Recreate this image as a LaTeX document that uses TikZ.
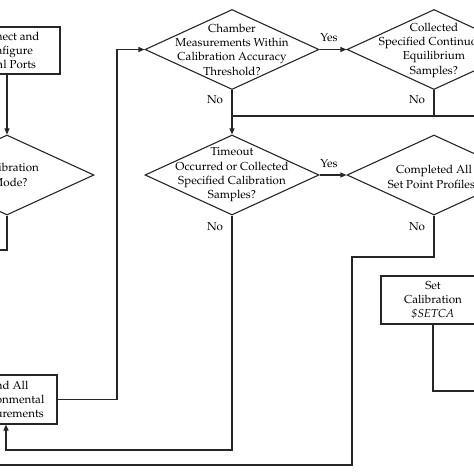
\documentclass[tikz,border=0pt]{standalone}
\usepackage[T1]{fontenc}
\usepackage{mathpazo}
\usetikzlibrary{shapes.geometric,arrows.meta,calc}
\newcommand\txtfont{\fontsize{11.6}{14.3}\selectfont}
\tikzset{
  ln/.style={draw=black!85, line width=1.1pt},
  arr/.style={ln, -{Triangle[length=6pt,width=5pt]}},
  dia/.style={diamond, draw=black!85, line width=1.1pt, minimum width=174pt, minimum height=80pt, inner sep=0pt},
  boxnode/.style={rectangle, draw=black!85, line width=1.1pt, inner sep=0pt, align=center, font=\txtfont},
  txt/.style={align=center, font=\txtfont, inner sep=0pt},
  lbl/.style={font=\txtfont, inner sep=1pt},
}
\begin{document}
\begin{tikzpicture}[x=1pt,y=-1pt]
\useasboundingbox (0,0) rectangle (474,474);
\clip (0,0) rectangle (474,474);
% boxes
\node[boxnode, minimum width=106pt, minimum height=47pt] (b1) at (7,50.5) {Connect and\\Configure\\Serial Ports};
\node[boxnode, minimum width=102pt, minimum height=49pt] (rd) at (6,399.5) {Read All\\Environmental\\Measurements};
\node[boxnode, minimum width=104pt, minimum height=48pt] (sc) at (433,300) {Set\\Calibration\\\textit{\$SETCA}};
% diamonds
\node[dia] (cm) at (7,175) {};
\node[txt] (cmt) at (10,175) {Calibration\\Mode?};
\node[dia] (ch) at (232,49.5) {};
\node[txt] (cht) at (232,49.5) {Chamber\\Measurements Within\\Calibration Accuracy\\Threshold?};
\node[dia] (co) at (434,49.5) {};
\node[txt] (cot) at (434,50) {Collected\\Specified Continuous\\Equilibrium\\Samples?};
\node[dia] (to) at (232,175) {};
\node[txt] (tot) at (232,175) {Timeout\\Occurred or Collected\\Specified Calibration\\Samples?};
\node[dia] (cp) at (434,175) {};
\node[txt] (cpt) at (434,177) {Completed All\\Set Point Profiles?};
% labels
\node[lbl] (y1) at (329,38) {Yes};
\node[lbl] (y2) at (329,164) {Yes};
\node[lbl] (n1) at (215,100) {No};
\node[lbl] (n2) at (417,100) {No};
\node[lbl] (n3) at (215,227) {No};
\node[lbl] (n4) at (417,227) {No};
% coordinates
\coordinate (j1) at (117,49.5);
\coordinate (j2) at (232,116);
\coordinate (j3) at (490,116);
\coordinate (j4) at (232,450);
\coordinate (j5) at (352,257);
\coordinate (j6) at (-20,465);
\coordinate (j7) at (490,391);
\coordinate (j8) at (-20,250);
% connectors
\draw[arr] (b1.south) -- (cm.north);
\draw[ln] (cm.south) |- (j8);
\draw[arr] (rd.east) -| (j1) -- (ch.west);
\draw[arr] (ch.east) -- (co.west);
\draw[arr] (ch.south) -- (to.north);
\draw[ln] (co.south) -- (co.south |- j2);
\draw[ln] (j3) -- (j2);
\draw[arr] (to.east) -- (cp.west);
\draw[arr] (to.south) -- (j4) -| (rd.south);
\draw[ln] (cp.south) |- (j5) |- (j6);
\draw[ln] (sc.south) |- (j7);
\end{tikzpicture}
\end{document}
